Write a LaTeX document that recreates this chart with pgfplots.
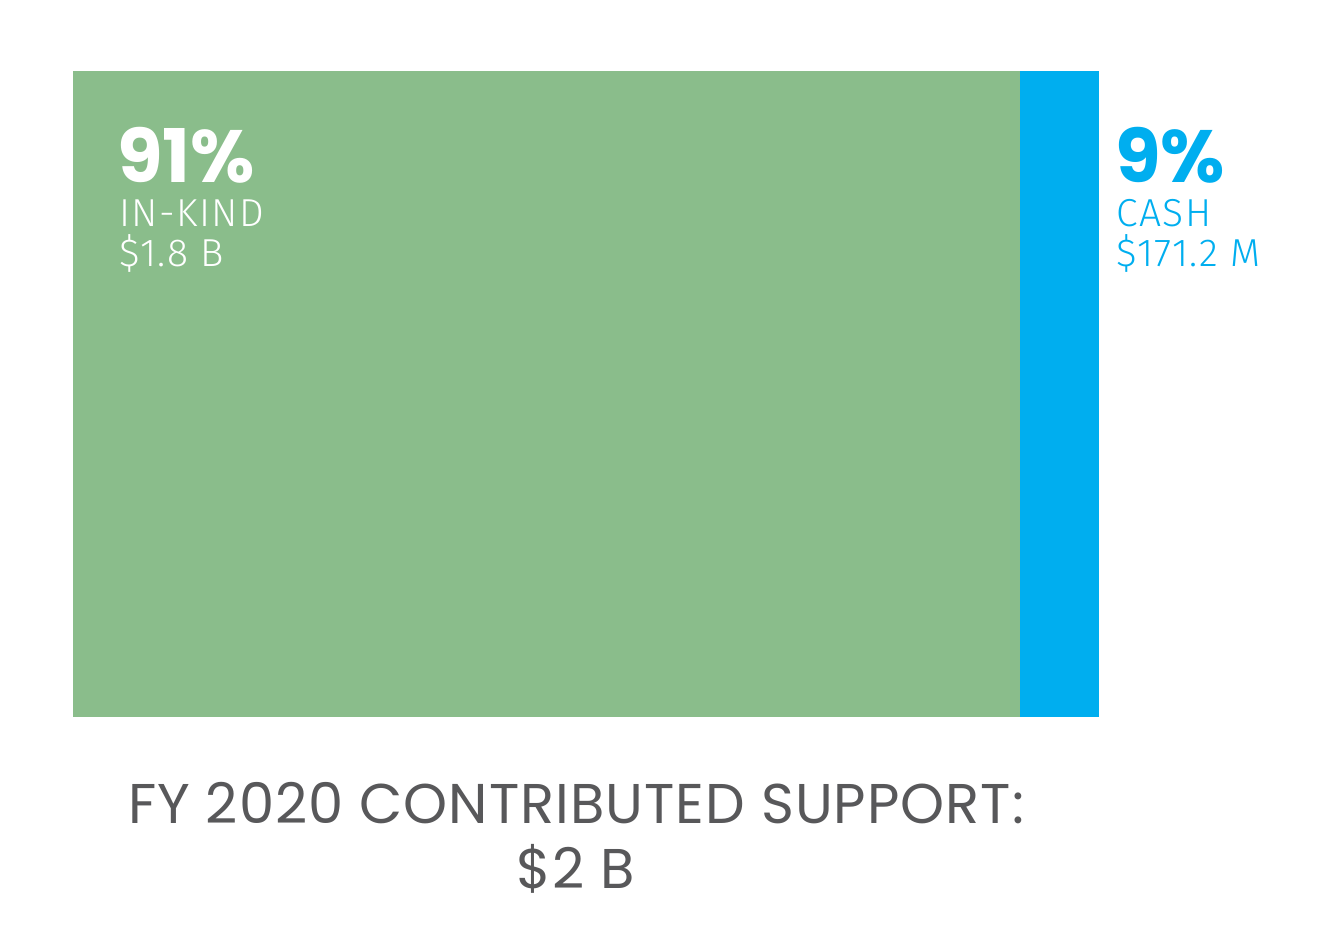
\documentclass[border=0pt]{standalone}
\usepackage{pgfplots}
\pgfplotsset{compat=1.18}
\usepackage{fontspec}
\setmainfont{Poppins}
\newfontfamily\boldfont{Poppins}[UprightFont={* Bold}]
\newfontfamily\lightfont{Fira Sans}[UprightFont={* Light}, LetterSpace=3.5]
\newfontfamily\titlefont{Poppins}[LetterSpace=1.8]
\definecolor{inkind}{HTML}{8ABD8B}
\definecolor{cash}{HTML}{00AEEF}
\definecolor{titlegray}{HTML}{58585A}
\begin{document}
\begin{tikzpicture}
\path (0pt,0pt) rectangle (671pt,464pt);
\begin{axis}[
  at={(36.5pt,105.5pt)}, anchor=south west,
  scale only axis, width=513pt, height=323pt,
  xbar stacked, bar width=323pt,
  xmin=0, xmax=100, ymin=-0.5, ymax=0.5,
  hide axis,
]
\addplot[fill=inkind, draw=none] coordinates {(92.3,0)};
\addplot[fill=cash, draw=none] coordinates {(7.7,0)};
\end{axis}
\tikzset{big/.style={anchor=base west, inner sep=0pt, text depth=0pt, font=\boldfont\fontsize{37}{37}\selectfont},
         small/.style={anchor=base west, inner sep=0pt, text height=13.5pt, text depth=0pt, font=\lightfont\fontsize{19.5}{20}\selectfont}}
\node[big, text=white] at (58.5pt,372.5pt) {91\%};
\node[small, text=white] at (59.5pt,350.5pt) {IN-KIND};
\node[small, text=white] at (59.5pt,330.5pt) {\$1.8 B};
\node[big, text=cash] at (557.5pt,372.5pt) {9\%};
\node[small, text=cash] at (558pt,350.5pt) {CASH};
\node[small, text=cash] at (558pt,330.5pt) {\$171.2 M};
\node[anchor=base, inner sep=0pt, text=titlegray, font=\titlefont\fontsize{28}{28}\selectfont] at (288pt,52.5pt) {FY 2020 CONTRIBUTED SUPPORT:};
\node[anchor=base, inner sep=0pt, text=titlegray, font=\titlefont\fontsize{28}{28}\selectfont] at (288pt,20pt) {\$2 B};
\end{tikzpicture}
\end{document}
